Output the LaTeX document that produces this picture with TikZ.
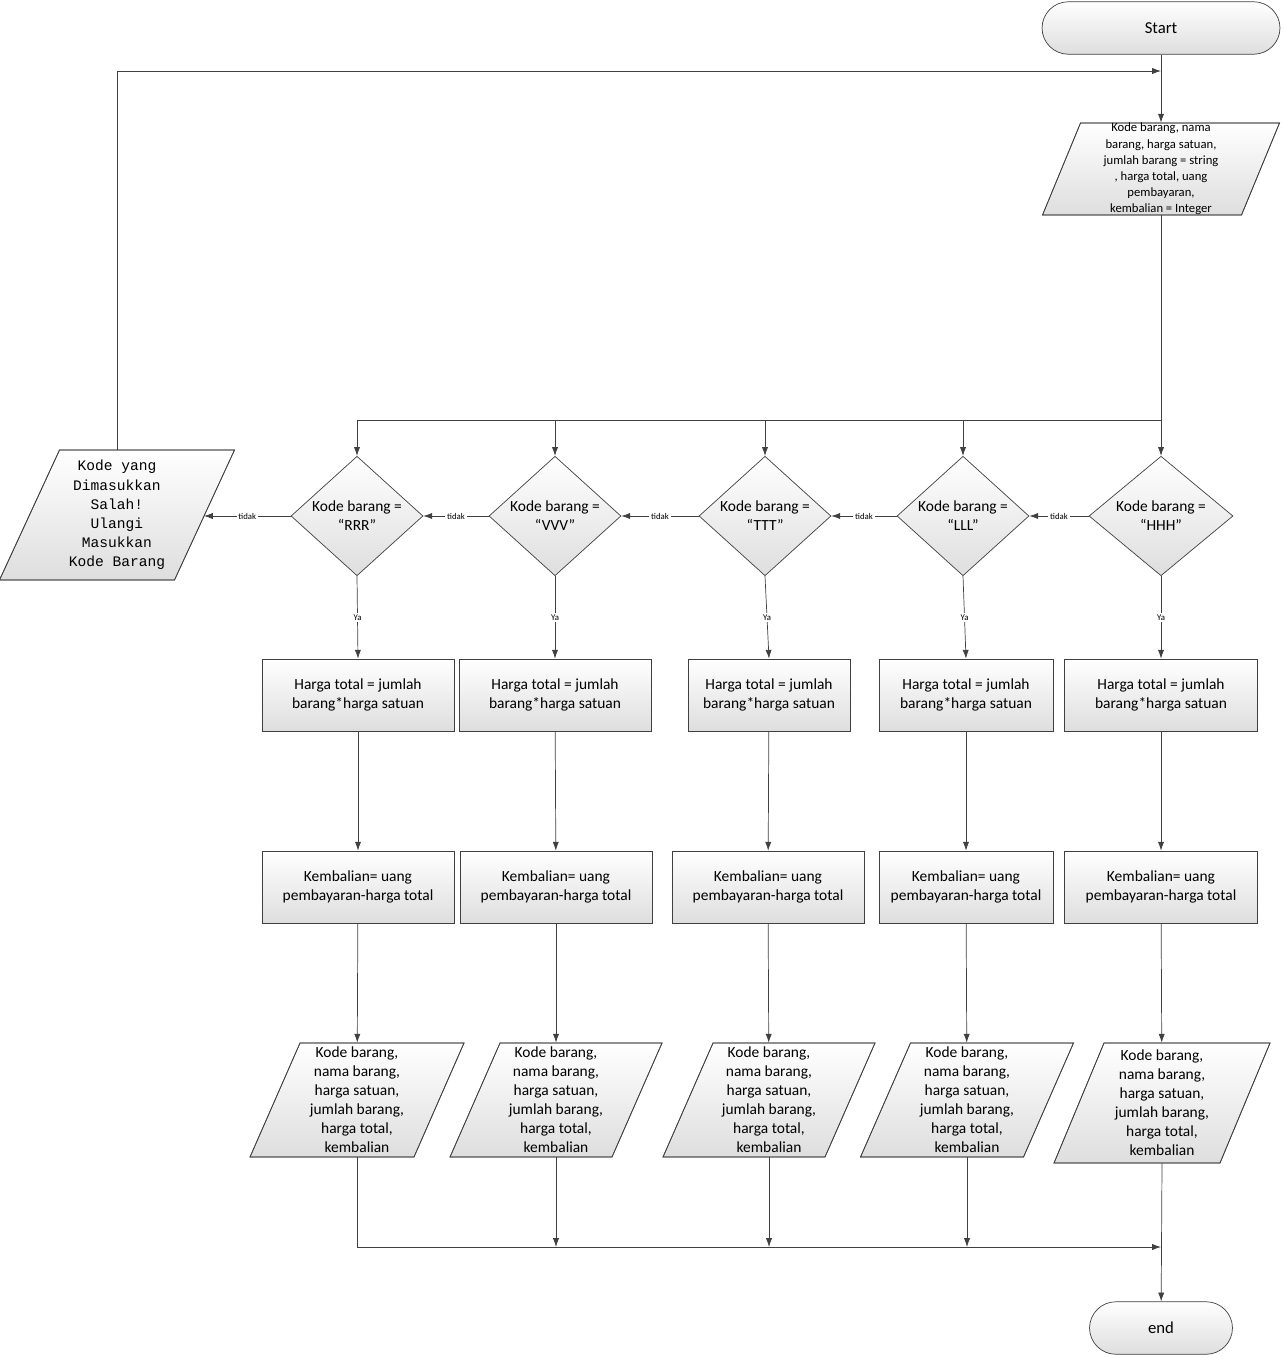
\documentclass[tikz,border=0pt]{standalone}
\usepackage{fontspec}
\setmainfont{Carlito}
\newfontfamily\errfont{Liberation Mono}
\usetikzlibrary{shapes.geometric,arrows.meta}

\tikzset{
  box/.style={draw=black!75, top color=white, bottom color=black!13},
  term/.style={box, rectangle, rounded corners=15pt, minimum height=1.05cm,
    font=\fontsize{9.5}{11}\selectfont},
  proc/.style={box, rectangle, minimum height=1.44cm, align=center,
    font=\fontsize{8.8}{10.8}\selectfont},
  dec/.style={box, diamond, minimum width=2.64cm, minimum height=1.92cm,
    inner sep=0pt, align=center, font=\fontsize{8.8}{10.8}\selectfont},
  iotext/.style={align=center, inner sep=0pt, font=\fontsize{8.8}{10.8}\selectfont},
  flow/.style={draw=black!75, -{Latex[length=5pt,width=3.5pt]}},
  lbl/.style={fill=white, inner sep=1pt, font=\fontsize{5}{6}\selectfont}
}

% parallelogram: name, cx, cy, w, h, offset, style, text
\newcommand\iobox[8]{%
  \shade[box] ({#2-#4/2+#6},{#3-#5/2}) -- ({#2+#4/2},{#3-#5/2})
    -- ({#2+#4/2-#6},{#3+#5/2}) -- ({#2-#4/2},{#3+#5/2}) -- cycle;
  \draw[draw=black!75] ({#2-#4/2+#6},{#3-#5/2}) -- ({#2+#4/2},{#3-#5/2})
    -- ({#2+#4/2-#6},{#3+#5/2}) -- ({#2-#4/2},{#3+#5/2}) -- cycle;
  \node[iotext, #7, minimum height=#5*0.02cm] (#1) at (#2,#3) {#8};}

\begin{document}
\begin{tikzpicture}[x=0.02cm, y=-0.02cm]
\useasboundingbox (0,0) rectangle (1284,1358);

% terminals
\node[term, minimum width=4.76cm] (start) at (1161,28) {Start};
\node[term, minimum width=2.86cm] (end) at (1161,1328) {end};

% input
\iobox{inp}{1161}{169}{237}{92}{38}{font=\fontsize{7.2}{9.2}\selectfont}{%
  Kode barang, nama\\barang, harga satuan,\\jumlah barang = string\\, harga total, uang\\pembayaran,\\kembalian = Integer}

% error
\iobox{err}{117}{515}{235}{130}{60}{font=\errfont\fontsize{8.3}{10.9}\selectfont}{%
  Kode yang\\Dimasukkan\\Salah!\\Ulangi\\Masukkan\\Kode Barang}

% decisions
\node[dec] (d1) at (357,516) {Kode barang =\\``RRR''};
\node[dec] (d2) at (555,516) {Kode barang =\\``VVV''};
\node[dec] (d3) at (765,516) {Kode barang =\\``TTT''};
\node[dec] (d4) at (963,516) {Kode barang =\\``LLL''};
\node[dec, minimum width=2.88cm] (d5) at (1161,516) {Kode barang =\\``HHH''};

% harga total
\node[proc, minimum width=3.84cm] (h1) at (358,695) {Harga total = jumlah\\barang*harga satuan};
\node[proc, minimum width=3.84cm] (h2) at (555,695) {Harga total = jumlah\\barang*harga satuan};
\node[proc, minimum width=3.24cm] (h3) at (769,695) {Harga total = jumlah\\barang*harga satuan};
\node[proc, minimum width=3.48cm] (h4) at (966,695) {Harga total = jumlah\\barang*harga satuan};
\node[proc, minimum width=3.86cm] (h5) at (1161,695) {Harga total = jumlah\\barang*harga satuan};

% kembalian
\node[proc, minimum width=3.84cm] (k1) at (358,887) {Kembalian= uang\\pembayaran-harga total};
\node[proc, minimum width=3.84cm] (k2) at (556,887) {Kembalian= uang\\pembayaran-harga total};
\node[proc, minimum width=3.84cm] (k3) at (768,887) {Kembalian= uang\\pembayaran-harga total};
\node[proc, minimum width=3.48cm] (k4) at (966,887) {Kembalian= uang\\pembayaran-harga total};
\node[proc, minimum width=3.86cm] (k5) at (1161,887) {Kembalian= uang\\pembayaran-harga total};

% output
\iobox{o1}{357}{1100}{214}{114}{50}{}{Kode barang,\\nama barang,\\harga satuan,\\jumlah barang,\\harga total,\\kembalian}
\iobox{o2}{556}{1100}{212}{114}{50}{}{Kode barang,\\nama barang,\\harga satuan,\\jumlah barang,\\harga total,\\kembalian}
\iobox{o3}{769}{1100}{212}{114}{50}{}{Kode barang,\\nama barang,\\harga satuan,\\jumlah barang,\\harga total,\\kembalian}
\iobox{o4}{967}{1100}{213}{114}{50}{}{Kode barang,\\nama barang,\\harga satuan,\\jumlah barang,\\harga total,\\kembalian}
\iobox{o5}{1162}{1103}{216}{120}{50}{}{Kode barang,\\nama barang,\\harga satuan,\\jumlah barang,\\harga total,\\kembalian}

\coordinate (top) at (1161,71);
\coordinate (bus) at (1161,420);
\coordinate (join) at (1161,1247);
\coordinate (erre) at (204,516);

% connectors
\draw[flow] (start) -- (inp);
\draw[flow] (err.north) |- (top);
\draw[draw=black!75] (inp.south) -- (bus);
\foreach \d in {d1,d2,d3,d4} \draw[flow] (bus) -| (\d.north);
\draw[flow] (bus) -- (d5.north);

\draw[flow] (d5.west) -- (d4.east) node[lbl, midway] {tidak};
\draw[flow] (d4.west) -- (d3.east) node[lbl, midway] {tidak};
\draw[flow] (d3.west) -- (d2.east) node[lbl, midway] {tidak};
\draw[flow] (d2.west) -- (d1.east) node[lbl, midway] {tidak};
\draw[flow] (d1.west) -- (erre) node[lbl, midway] {tidak};

\foreach \i in {1,...,5} {
  \draw[flow] (d\i.south) -- (h\i.north) node[lbl, midway] {Ya};
  \draw[flow] (h\i) -- (k\i);
  \draw[flow] (k\i) -- (o\i);
}

\draw[flow] (o1.south) |- (join);
\foreach \i in {2,3,4} \draw[flow] (o\i.south) -- (o\i.south |- join);
\draw[flow] (o5.south) -- (end);
\end{tikzpicture}
\end{document}
